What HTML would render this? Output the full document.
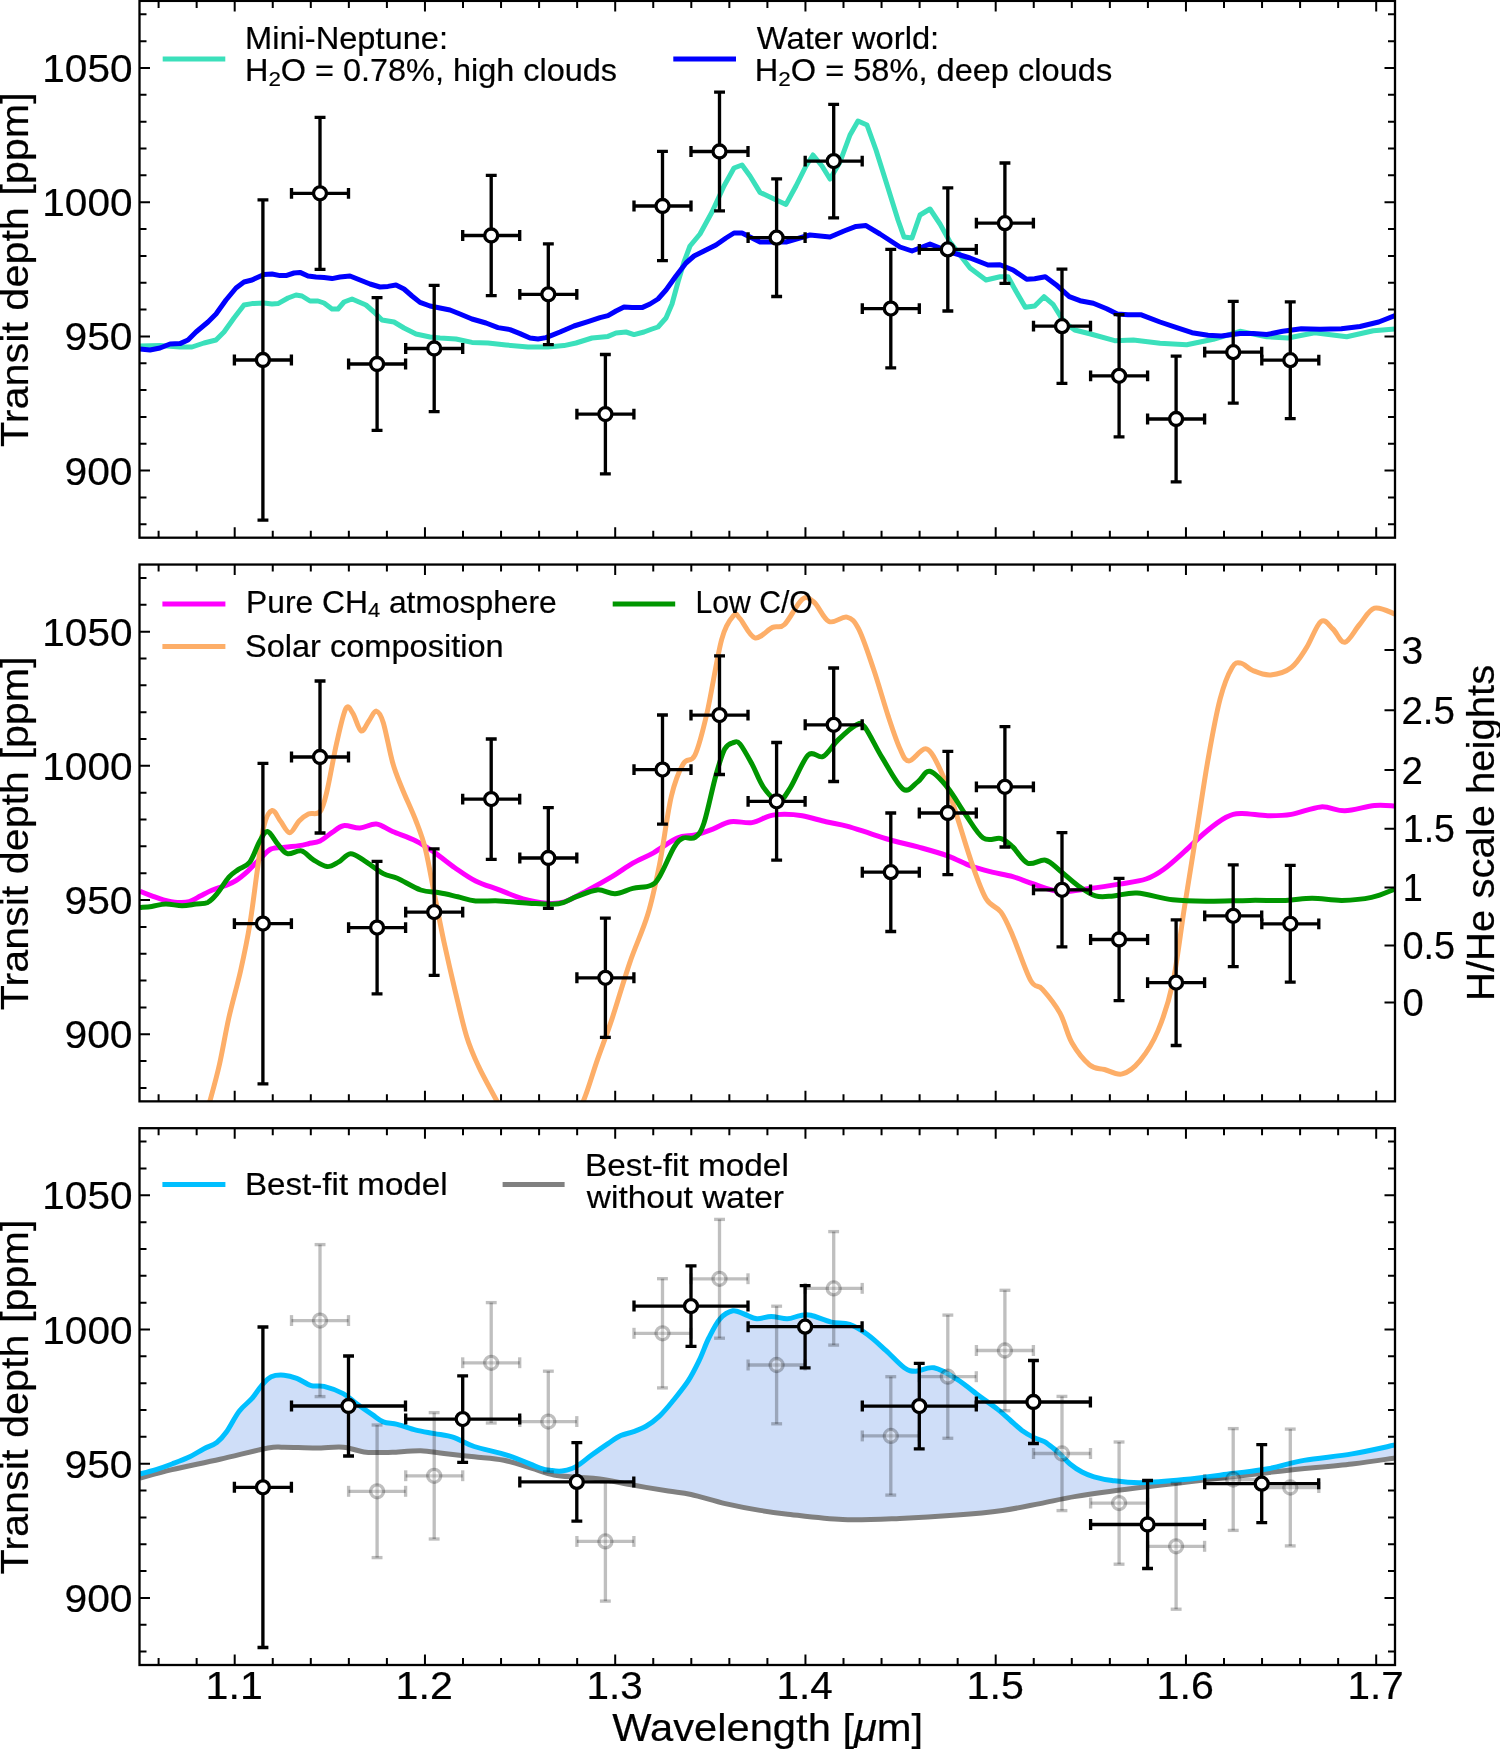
<!DOCTYPE html><html><head><meta charset="utf-8"><style>html,body{margin:0;padding:0;background:#fff;width:1500px;height:1753px;overflow:hidden}svg{display:block;will-change:transform}text{font-family:"Liberation Sans", sans-serif;fill:#000;stroke:#000;stroke-width:0.2px}</style></head><body>
<svg width="1500" height="1753" viewBox="0 0 1500 1753">
<rect width="1500" height="1753" fill="#fff"/>
<defs>
<clipPath id="clip0"><rect x="139.50" y="0.90" width="1255.50" height="536.80"/></clipPath>
<clipPath id="clip1"><rect x="139.50" y="564.55" width="1255.50" height="536.80"/></clipPath>
<clipPath id="clip2"><rect x="139.50" y="1128.20" width="1255.50" height="536.80"/></clipPath>
</defs>
<path d="M140.0,346.0 L160.0,345.6 L180.0,347.0 L192.0,347.0 L204.0,343.0 L216.0,340.0 L224.0,332.0 L234.0,318.0 L244.0,305.0 L252.0,303.6 L264.0,303.0 L272.0,304.0 L278.0,303.6 L288.0,298.0 L296.0,295.0 L302.0,296.0 L310.0,301.0 L318.0,301.0 L324.0,303.0 L332.0,309.0 L338.0,309.0 L344.0,302.0 L352.0,299.0 L366.0,305.0 L374.0,312.0 L382.0,320.0 L394.0,322.0 L404.0,328.0 L416.0,334.0 L430.0,337.0 L440.0,338.0 L456.0,339.0 L472.0,342.4 L488.0,343.0 L506.0,345.0 L528.0,347.0 L548.0,347.0 L564.0,345.6 L576.0,343.0 L592.0,338.0 L608.0,336.4 L616.0,333.0 L626.0,332.0 L634.0,334.6 L644.0,332.0 L652.0,329.0 L658.0,327.0 L666.0,318.0 L672.0,304.0 L678.0,282.0 L684.0,262.0 L690.0,246.0 L700.0,234.0 L712.0,212.0 L724.0,186.0 L734.0,168.0 L742.0,165.0 L750.0,176.0 L760.0,192.4 L772.0,198.0 L786.0,204.4 L796.0,186.0 L806.0,166.0 L813.0,155.0 L822.0,166.0 L830.0,179.0 L840.0,162.0 L850.0,135.0 L858.0,121.0 L867.0,125.0 L876.0,150.0 L888.0,188.0 L898.0,220.0 L904.0,237.0 L912.0,238.0 L920.0,215.0 L930.0,209.0 L940.0,224.0 L950.0,242.0 L960.0,255.0 L970.0,268.0 L986.0,280.0 L1000.0,276.7 L1008.0,276.7 L1016.0,291.3 L1025.3,307.3 L1034.7,306.0 L1044.0,296.7 L1053.3,304.7 L1064.0,322.0 L1074.7,330.0 L1090.7,334.0 L1114.7,340.7 L1133.3,339.9 L1160.0,343.3 L1186.7,344.7 L1213.3,339.3 L1240.0,331.3 L1266.7,336.7 L1288.0,338.0 L1314.7,332.7 L1346.7,336.7 L1373.3,330.8 L1395.0,329.0" fill="none" stroke="#3be0bb" stroke-width="5.00" stroke-linejoin="round" stroke-linecap="butt" clip-path="url(#clip0)" />
<path d="M140.0,349.0 L150.0,350.0 L160.0,348.0 L170.0,344.0 L180.0,343.6 L188.0,340.0 L196.0,332.0 L208.0,322.0 L216.0,314.0 L226.0,300.0 L236.0,288.0 L244.0,282.0 L252.0,280.0 L264.0,274.4 L272.0,274.0 L280.0,275.6 L286.0,275.6 L294.0,273.0 L300.0,272.4 L308.0,276.0 L316.0,277.0 L324.0,277.6 L332.0,278.6 L340.0,277.0 L350.0,276.0 L360.0,280.0 L370.0,284.0 L380.0,287.0 L388.0,286.4 L396.0,285.0 L404.0,289.0 L412.0,296.0 L420.0,302.4 L430.0,306.0 L440.0,308.0 L450.0,310.0 L460.0,314.0 L472.0,319.0 L486.0,323.0 L498.0,327.6 L510.0,329.6 L520.0,333.6 L530.0,338.0 L538.0,339.0 L546.0,337.6 L560.0,332.0 L574.0,326.0 L588.0,321.6 L600.0,317.6 L608.0,315.6 L616.0,311.0 L624.0,307.0 L632.0,307.6 L642.0,307.6 L650.0,304.0 L658.0,299.0 L666.0,290.0 L676.0,276.0 L686.0,263.0 L694.0,256.0 L704.0,251.0 L716.0,245.0 L726.0,238.0 L734.0,233.0 L742.0,233.0 L760.0,242.0 L786.0,242.0 L810.0,235.0 L830.0,237.0 L844.0,231.0 L856.0,226.4 L866.0,225.6 L880.0,234.0 L900.0,247.0 L912.0,251.0 L930.0,244.0 L950.0,252.0 L970.0,258.0 L988.0,265.0 L1000.0,264.7 L1013.0,270.0 L1026.7,279.3 L1034.7,278.8 L1045.3,276.7 L1056.0,284.7 L1069.3,296.7 L1080.0,300.7 L1093.3,303.3 L1106.7,308.7 L1117.3,314.0 L1128.0,314.8 L1141.3,314.8 L1160.0,322.0 L1176.0,327.3 L1192.0,332.7 L1208.0,335.3 L1221.3,336.1 L1240.0,333.5 L1253.3,333.5 L1266.7,334.5 L1282.7,331.3 L1301.3,328.7 L1320.0,329.2 L1341.3,328.7 L1360.0,326.5 L1378.7,322.0 L1395.0,315.5" fill="none" stroke="#0000ff" stroke-width="5.00" stroke-linejoin="round" stroke-linecap="butt" clip-path="url(#clip0)" />
<path d="M262.9,199.8 V520.2 M234.4,360.0 H291.4 M257.5,199.8 H268.4 M257.5,520.2 H268.4 M234.4,354.6 V365.4 M291.4,354.6 V365.4" stroke="#000" stroke-width="3.33" fill="none"/>
<circle cx="262.9" cy="360.0" r="6.5" fill="#fff" stroke="#000" stroke-width="3.33"/>
<path d="M320.0,117.3 V269.3 M291.5,193.3 H348.5 M314.6,117.3 H325.5 M314.6,269.3 H325.5 M291.5,187.9 V198.8 M348.5,187.9 V198.8" stroke="#000" stroke-width="3.33" fill="none"/>
<circle cx="320.0" cy="193.3" r="6.5" fill="#fff" stroke="#000" stroke-width="3.33"/>
<path d="M377.1,297.7 V430.3 M348.6,364.0 H405.6 M371.6,297.7 H382.5 M371.6,430.3 H382.5 M348.6,358.6 V369.4 M405.6,358.6 V369.4" stroke="#000" stroke-width="3.33" fill="none"/>
<circle cx="377.1" cy="364.0" r="6.5" fill="#fff" stroke="#000" stroke-width="3.33"/>
<path d="M434.2,285.3 V411.7 M405.7,348.5 H462.7 M428.7,285.3 H439.6 M428.7,411.7 H439.6 M405.7,343.1 V353.9 M462.7,343.1 V353.9" stroke="#000" stroke-width="3.33" fill="none"/>
<circle cx="434.2" cy="348.5" r="6.5" fill="#fff" stroke="#000" stroke-width="3.33"/>
<path d="M491.2,175.3 V295.6 M462.7,235.5 H519.7 M485.8,175.3 H496.7 M485.8,295.6 H496.7 M462.7,230.1 V240.9 M519.7,230.1 V240.9" stroke="#000" stroke-width="3.33" fill="none"/>
<circle cx="491.2" cy="235.5" r="6.5" fill="#fff" stroke="#000" stroke-width="3.33"/>
<path d="M548.3,243.9 V344.7 M519.8,294.3 H576.8 M542.9,243.9 H553.8 M542.9,344.7 H553.8 M519.8,288.9 V299.8 M576.8,288.9 V299.8" stroke="#000" stroke-width="3.33" fill="none"/>
<circle cx="548.3" cy="294.3" r="6.5" fill="#fff" stroke="#000" stroke-width="3.33"/>
<path d="M605.4,354.5 V473.8 M576.9,414.1 H633.9 M599.9,354.5 H610.8 M599.9,473.8 H610.8 M576.9,408.7 V419.6 M633.9,408.7 V419.6" stroke="#000" stroke-width="3.33" fill="none"/>
<circle cx="605.4" cy="414.1" r="6.5" fill="#fff" stroke="#000" stroke-width="3.33"/>
<path d="M662.5,151.4 V260.6 M634.0,206.0 H691.0 M657.0,151.4 H667.9 M657.0,260.6 H667.9 M634.0,200.6 V211.4 M691.0,200.6 V211.4" stroke="#000" stroke-width="3.33" fill="none"/>
<circle cx="662.5" cy="206.0" r="6.5" fill="#fff" stroke="#000" stroke-width="3.33"/>
<path d="M719.5,92.1 V210.9 M691.0,151.5 H748.0 M714.1,92.1 H725.0 M714.1,210.9 H725.0 M691.0,146.1 V156.9 M748.0,146.1 V156.9" stroke="#000" stroke-width="3.33" fill="none"/>
<circle cx="719.5" cy="151.5" r="6.5" fill="#fff" stroke="#000" stroke-width="3.33"/>
<path d="M776.6,178.9 V296.5 M748.1,237.7 H805.1 M771.2,178.9 H782.1 M771.2,296.5 H782.1 M748.1,232.2 V243.1 M805.1,232.2 V243.1" stroke="#000" stroke-width="3.33" fill="none"/>
<circle cx="776.6" cy="237.7" r="6.5" fill="#fff" stroke="#000" stroke-width="3.33"/>
<path d="M833.7,104.3 V217.8 M805.2,161.1 H862.2 M828.2,104.3 H839.1 M828.2,217.8 H839.1 M805.2,155.7 V166.5 M862.2,155.7 V166.5" stroke="#000" stroke-width="3.33" fill="none"/>
<circle cx="833.7" cy="161.1" r="6.5" fill="#fff" stroke="#000" stroke-width="3.33"/>
<path d="M890.8,249.4 V367.8 M862.3,308.6 H919.3 M885.3,249.4 H896.2 M885.3,367.8 H896.2 M862.3,303.2 V314.1 M919.3,303.2 V314.1" stroke="#000" stroke-width="3.33" fill="none"/>
<circle cx="890.8" cy="308.6" r="6.5" fill="#fff" stroke="#000" stroke-width="3.33"/>
<path d="M947.8,187.8 V311.0 M919.3,249.4 H976.3 M942.4,187.8 H953.3 M942.4,311.0 H953.3 M919.3,244.0 V254.8 M976.3,244.0 V254.8" stroke="#000" stroke-width="3.33" fill="none"/>
<circle cx="947.8" cy="249.4" r="6.5" fill="#fff" stroke="#000" stroke-width="3.33"/>
<path d="M1004.9,163.0 V283.4 M976.4,223.2 H1033.4 M999.5,163.0 H1010.4 M999.5,283.4 H1010.4 M976.4,217.8 V228.6 M1033.4,217.8 V228.6" stroke="#000" stroke-width="3.33" fill="none"/>
<circle cx="1004.9" cy="223.2" r="6.5" fill="#fff" stroke="#000" stroke-width="3.33"/>
<path d="M1062.0,269.1 V383.3 M1033.5,326.2 H1090.5 M1056.5,269.1 H1067.4 M1056.5,383.3 H1067.4 M1033.5,320.8 V331.6 M1090.5,320.8 V331.6" stroke="#000" stroke-width="3.33" fill="none"/>
<circle cx="1062.0" cy="326.2" r="6.5" fill="#fff" stroke="#000" stroke-width="3.33"/>
<path d="M1119.1,314.7 V436.9 M1090.6,375.8 H1147.6 M1113.6,314.7 H1124.5 M1113.6,436.9 H1124.5 M1090.6,370.4 V381.2 M1147.6,370.4 V381.2" stroke="#000" stroke-width="3.33" fill="none"/>
<circle cx="1119.1" cy="375.8" r="6.5" fill="#fff" stroke="#000" stroke-width="3.33"/>
<path d="M1176.1,356.1 V481.9 M1147.6,419.0 H1204.6 M1170.7,356.1 H1181.6 M1170.7,481.9 H1181.6 M1147.6,413.6 V424.4 M1204.6,413.6 V424.4" stroke="#000" stroke-width="3.33" fill="none"/>
<circle cx="1176.1" cy="419.0" r="6.5" fill="#fff" stroke="#000" stroke-width="3.33"/>
<path d="M1233.2,301.3 V403.1 M1204.7,352.2 H1261.7 M1227.8,301.3 H1238.7 M1227.8,403.1 H1238.7 M1204.7,346.8 V357.6 M1261.7,346.8 V357.6" stroke="#000" stroke-width="3.33" fill="none"/>
<circle cx="1233.2" cy="352.2" r="6.5" fill="#fff" stroke="#000" stroke-width="3.33"/>
<path d="M1290.3,301.8 V418.6 M1261.8,360.2 H1318.8 M1284.8,301.8 H1295.7 M1284.8,418.6 H1295.7 M1261.8,354.8 V365.6 M1318.8,354.8 V365.6" stroke="#000" stroke-width="3.33" fill="none"/>
<circle cx="1290.3" cy="360.2" r="6.5" fill="#fff" stroke="#000" stroke-width="3.33"/>
<path d="M140.0,891.2 C141.9,892.0 147.8,894.4 151.7,895.8 C155.6,897.2 159.1,898.7 163.4,899.8 C167.7,900.9 173.1,902.1 177.4,902.4 C181.7,902.7 185.2,902.8 189.1,901.7 C193.0,900.6 196.9,897.8 200.8,895.8 C204.7,893.8 208.6,891.6 212.5,890.0 C216.4,888.4 220.3,887.6 224.2,886.0 C228.1,884.4 232.0,883.1 235.9,880.6 C239.8,878.1 243.7,874.8 247.6,871.3 C251.5,867.8 255.4,863.3 259.3,859.6 C263.2,855.9 266.7,851.2 271.0,849.1 C275.3,847.0 280.3,847.8 285.0,847.2 C289.7,846.6 295.2,846.2 299.1,845.6 C303.0,845.0 304.9,844.5 308.4,843.7 C311.9,842.9 316.2,842.7 320.1,840.9 C324.0,839.1 327.9,835.2 331.8,832.7 C335.7,830.2 338.8,826.5 343.5,825.7 C348.2,824.9 354.4,828.3 359.9,828.0 C365.4,827.7 370.9,823.4 376.3,824.0 C381.8,824.6 386.0,828.7 392.6,831.5 C399.2,834.3 409.0,837.4 416.0,840.9 C423.0,844.4 428.2,848.1 434.7,852.6 C441.2,857.1 448.0,863.0 454.8,867.7 C461.6,872.4 468.2,877.3 475.6,881.0 C483.0,884.7 491.4,886.9 499.3,889.9 C507.2,892.9 515.1,896.6 523.0,898.8 C530.9,901.0 539.9,902.7 546.8,903.2 C553.7,903.7 557.7,904.0 564.6,901.8 C571.5,899.6 580.4,894.1 588.3,889.9 C596.2,885.7 604.6,881.0 612.0,876.6 C619.4,872.2 625.9,867.2 632.8,863.2 C639.7,859.2 646.1,857.0 653.5,852.8 C660.9,848.6 670.3,841.0 677.2,838.0 C684.1,835.0 689.1,836.5 695.0,835.0 C700.9,833.5 706.9,831.3 712.8,829.1 C718.7,826.9 724.1,822.8 730.6,821.7 C737.1,820.6 745.4,823.6 751.9,822.6 C758.4,821.6 764.3,817.2 769.7,815.8 C775.1,814.4 779.1,814.3 784.5,814.3 C789.9,814.3 795.4,814.6 802.3,815.8 C809.2,817.0 818.6,820.0 826.0,821.7 C833.4,823.4 839.4,824.1 846.8,826.1 C854.2,828.1 862.6,831.1 870.5,833.6 C878.4,836.1 886.3,838.8 894.2,841.0 C902.1,843.2 909.0,844.4 917.9,846.9 C926.8,849.4 938.7,852.6 947.6,855.8 C956.5,859.0 963.9,863.5 971.3,866.2 C978.7,868.9 985.2,870.4 992.1,872.1 C999.0,873.8 1005.9,874.6 1012.8,876.6 C1019.7,878.6 1025.7,881.5 1033.6,884.0 C1041.5,886.5 1050.7,890.8 1060.0,891.5 C1069.3,892.2 1079.8,889.7 1089.7,888.5 C1099.6,887.3 1109.9,885.7 1119.3,884.1 C1128.7,882.5 1138.6,881.5 1146.0,879.0 C1153.4,876.5 1157.4,873.8 1163.8,869.2 C1170.2,864.6 1177.7,857.6 1184.6,851.4 C1191.5,845.2 1198.5,837.9 1205.4,832.2 C1212.3,826.5 1220.2,820.4 1226.1,817.3 C1232.0,814.2 1234.1,813.8 1241.0,813.5 C1247.9,813.2 1259.3,815.6 1267.7,815.8 C1276.1,815.9 1282.5,815.9 1291.4,814.4 C1300.3,812.9 1312.1,807.5 1321.0,806.9 C1329.9,806.3 1335.9,811.0 1344.8,810.8 C1353.7,810.6 1366.1,806.3 1374.5,805.5 C1382.9,804.7 1391.6,805.9 1395.0,806.0" fill="none" stroke="#ff00ff" stroke-width="5.00" stroke-linejoin="round" stroke-linecap="butt" clip-path="url(#clip1)" />
<path d="M204.0,1120.0 C205.0,1116.7 207.6,1109.3 210.2,1100.0 C212.8,1090.7 216.4,1078.0 219.5,1064.3 C222.6,1050.5 225.4,1033.1 228.9,1017.5 C232.4,1001.9 237.1,986.3 240.6,970.7 C244.1,955.1 247.2,940.3 249.9,923.9 C252.6,907.5 254.7,888.9 257.0,872.5 C259.4,856.1 261.5,836.0 264.0,825.7 C266.5,815.4 269.5,811.3 272.2,810.5 C274.9,809.7 277.5,817.3 280.4,821.0 C283.3,824.7 286.6,832.7 289.7,832.7 C292.8,832.7 296.0,824.1 299.1,821.0 C302.2,817.9 304.9,815.6 308.4,814.0 C311.9,812.4 317.0,815.5 320.1,811.6 C323.2,807.7 324.4,801.9 327.1,790.6 C329.8,779.3 333.4,757.4 336.5,743.8 C339.6,730.1 343.1,713.8 345.8,708.7 C348.5,703.6 350.3,709.7 352.9,713.4 C355.4,717.1 358.4,729.7 361.1,730.9 C363.8,732.1 366.7,723.7 369.2,720.4 C371.7,717.1 373.9,710.7 376.3,711.1 C378.7,711.5 380.6,714.1 383.3,722.7 C386.0,731.3 389.5,751.6 392.6,762.5 C395.7,773.4 398.1,778.5 402.0,788.2 C405.9,798.0 412.1,810.9 416.0,821.0 C419.9,831.1 422.3,836.6 425.4,849.1 C428.5,861.6 431.6,880.2 434.7,895.8 C437.8,911.4 440.8,927.0 444.1,942.6 C447.5,958.2 451.0,973.6 454.8,989.3 C458.6,1005.0 462.7,1023.9 466.7,1036.7 C470.7,1049.6 473.7,1055.9 478.6,1066.4 C483.5,1077.0 491.1,1090.2 496.3,1100.0 C501.5,1109.8 502.7,1115.0 510.0,1125.0 C517.3,1135.0 530.0,1160.0 540.0,1160.0 C550.0,1160.0 562.7,1135.0 570.0,1125.0 C577.3,1115.0 579.3,1110.8 583.8,1100.0 C588.3,1089.2 592.5,1073.9 597.2,1060.4 C601.9,1046.9 606.6,1035.2 612.0,1018.9 C617.4,1002.6 623.9,979.9 629.8,962.6 C635.7,945.3 642.6,931.4 647.6,915.1 C652.6,898.8 655.5,884.5 659.5,864.7 C663.5,844.9 667.3,813.3 671.3,796.5 C675.2,779.7 679.2,770.8 683.2,763.9 C687.2,757.0 691.0,763.4 695.0,755.0 C699.0,746.6 702.4,732.8 706.9,713.5 C711.4,694.2 717.2,655.6 721.7,639.3 C726.2,623.0 730.6,619.0 733.6,615.6 C736.6,612.2 736.5,614.9 740.0,618.6 C743.5,622.3 749.4,636.3 754.8,637.8 C760.2,639.3 767.6,629.6 772.6,627.4 C777.6,625.2 779.5,629.2 784.5,624.5 C789.5,619.8 797.4,603.0 802.3,599.3 C807.2,595.6 809.6,598.5 814.1,602.2 C818.6,605.9 823.5,619.0 829.0,621.5 C834.5,624.0 841.9,615.9 846.8,617.1 C851.7,618.3 854.1,620.2 858.6,628.9 C863.1,637.5 868.5,654.4 873.5,669.0 C878.5,683.6 883.9,703.1 888.3,716.4 C892.7,729.7 896.6,741.6 900.1,749.0 C903.6,756.4 904.5,760.9 909.0,760.9 C913.5,760.9 921.3,747.0 926.8,749.0 C932.2,751.0 937.2,763.4 941.7,772.8 C946.2,782.2 948.6,790.6 953.5,805.4 C958.4,820.2 965.9,846.1 971.3,861.7 C976.7,877.3 981.1,890.4 986.1,898.8 C991.1,907.2 996.5,905.9 1001.0,912.1 C1005.5,918.3 1007.9,924.5 1012.8,935.9 C1017.7,947.3 1025.6,971.5 1030.6,980.4 C1035.5,989.3 1037.6,983.8 1042.5,989.3 C1047.4,994.8 1055.1,1004.2 1060.0,1013.1 C1064.9,1022.0 1067.0,1034.1 1071.9,1042.8 C1076.9,1051.5 1084.3,1060.5 1089.7,1065.0 C1095.1,1069.5 1099.1,1068.0 1104.5,1069.5 C1109.9,1071.0 1116.4,1075.4 1122.3,1073.9 C1128.2,1072.4 1134.2,1067.8 1140.1,1060.6 C1146.0,1053.4 1152.5,1043.8 1157.9,1030.9 C1163.3,1018.0 1168.2,1004.2 1172.7,983.4 C1177.2,962.6 1180.6,931.5 1184.6,906.3 C1188.6,881.1 1192.5,856.9 1196.5,832.2 C1200.5,807.5 1204.3,780.2 1208.3,758.0 C1212.2,735.8 1216.2,713.8 1220.2,698.7 C1224.2,683.6 1228.6,673.4 1232.1,667.5 C1235.6,661.6 1237.5,662.6 1241.0,663.1 C1244.5,663.6 1247.9,668.5 1252.8,670.5 C1257.7,672.5 1264.2,675.4 1270.6,674.9 C1277.0,674.4 1285.5,672.0 1291.4,667.5 C1297.3,663.0 1301.3,655.9 1306.2,648.2 C1311.1,640.5 1316.5,624.7 1321.0,621.5 C1325.5,618.3 1328.9,625.5 1332.9,629.0 C1336.9,632.5 1340.3,643.0 1344.8,642.3 C1349.2,641.5 1354.6,630.2 1359.6,624.5 C1364.5,618.8 1368.6,610.0 1374.5,608.2 C1380.4,606.5 1391.6,613.0 1395.0,614.0" fill="none" stroke="#fdae68" stroke-width="5.00" stroke-linejoin="round" stroke-linecap="butt" clip-path="url(#clip1)" />
<path d="M140.0,907.5 C141.9,907.3 147.4,907.0 151.7,906.4 C156.0,905.8 160.6,904.1 165.7,904.0 C170.8,903.9 177.0,905.7 182.1,905.7 C187.2,905.7 191.8,904.5 196.1,904.0 C200.4,903.5 204.3,904.1 207.8,902.4 C211.3,900.6 213.7,897.7 217.2,893.5 C220.7,889.3 225.4,881.1 228.9,877.1 C232.4,873.1 234.7,872.1 238.2,869.6 C241.7,867.1 246.4,866.5 249.9,861.9 C253.4,857.3 256.4,847.1 259.3,842.0 C262.2,836.9 264.4,831.1 267.5,831.5 C270.6,831.9 274.7,840.7 278.0,844.4 C281.3,848.1 283.5,852.6 287.4,853.7 C291.3,854.8 297.1,849.9 301.4,850.9 C305.7,851.9 308.8,857.0 313.1,859.6 C317.4,862.2 322.8,866.2 327.1,866.6 C331.4,867.0 334.9,864.0 338.8,861.9 C342.7,859.8 346.2,853.9 350.5,853.7 C354.8,853.5 359.1,857.5 364.6,860.8 C370.1,864.1 377.9,870.7 383.3,873.6 C388.8,876.5 391.1,875.6 397.3,878.3 C403.5,881.0 413.7,887.6 420.7,890.0 C427.7,892.4 433.2,891.7 439.4,892.8 C445.6,893.9 451.8,895.4 457.8,896.7 C463.8,898.1 468.7,900.2 475.6,900.9 C482.5,901.6 490.4,900.5 499.3,900.9 C508.2,901.3 519.1,902.7 529.0,903.2 C538.9,903.7 550.7,904.9 558.6,903.8 C566.5,902.7 570.0,899.0 576.4,896.7 C582.8,894.4 590.8,890.4 597.2,889.9 C603.6,889.4 609.1,894.0 615.0,893.8 C620.9,893.5 626.9,889.8 632.8,888.4 C638.7,887.0 646.1,887.5 650.6,885.5 C655.1,883.5 655.5,883.0 659.5,876.6 C663.5,870.2 670.3,853.3 674.3,846.9 C678.2,840.5 679.8,839.6 683.2,838.0 C686.7,836.4 691.5,839.9 695.0,837.4 C698.5,834.9 700.4,833.5 703.9,823.2 C707.4,812.9 712.3,788.1 715.8,775.7 C719.3,763.3 721.7,754.5 724.7,749.0 C727.7,743.5 731.1,743.3 733.6,742.5 C736.1,741.7 737.0,740.4 740.0,744.0 C743.0,747.6 747.9,756.6 751.9,763.9 C755.9,771.2 759.2,781.4 763.7,787.6 C768.2,793.8 774.2,800.9 778.6,800.9 C783.0,800.9 785.5,795.2 790.4,787.6 C795.3,780.0 802.8,760.2 808.2,755.0 C813.6,749.8 818.0,759.0 823.0,756.5 C828.0,754.0 832.4,745.3 837.9,740.1 C843.4,734.9 851.2,727.5 855.7,725.3 C860.2,723.1 860.2,721.4 864.6,726.8 C869.0,732.2 875.9,747.5 882.3,757.9 C888.7,768.3 897.2,785.1 903.1,789.1 C909.0,793.1 913.5,784.7 917.9,781.7 C922.3,778.7 924.8,770.3 929.8,771.3 C934.8,772.3 941.7,780.4 947.6,787.6 C953.5,794.8 959.5,805.9 965.4,814.3 C971.3,822.7 977.3,834.0 983.2,838.0 C989.1,842.0 996.1,837.1 1001.0,838.6 C1005.9,840.1 1008.3,842.8 1012.8,846.9 C1017.2,851.0 1022.2,861.0 1027.7,863.2 C1033.2,865.4 1040.1,859.0 1045.5,860.2 C1050.9,861.5 1054.6,866.5 1060.0,870.7 C1065.4,874.9 1071.9,881.3 1077.8,885.5 C1083.7,889.7 1089.7,894.2 1095.6,895.9 C1101.5,897.6 1106.5,896.4 1113.4,895.9 C1120.3,895.4 1127.2,892.4 1137.1,893.0 C1147.0,893.6 1160.8,898.4 1172.7,899.8 C1184.6,901.2 1195.4,901.2 1208.3,901.3 C1221.2,901.4 1237.0,900.5 1249.9,900.4 C1262.8,900.2 1275.1,900.8 1285.5,900.4 C1295.9,900.0 1302.7,898.3 1312.1,898.3 C1321.5,898.3 1331.9,900.5 1341.8,900.4 C1351.7,900.2 1362.6,899.3 1371.5,897.4 C1380.4,895.5 1391.1,890.4 1395.0,889.0" fill="none" stroke="#009600" stroke-width="5.00" stroke-linejoin="round" stroke-linecap="butt" clip-path="url(#clip1)" />
<path d="M262.9,763.4 V1083.9 M234.4,923.6 H291.4 M257.5,763.4 H268.4 M257.5,1083.9 H268.4 M234.4,918.2 V929.1 M291.4,918.2 V929.1" stroke="#000" stroke-width="3.33" fill="none"/>
<circle cx="262.9" cy="923.6" r="6.5" fill="#fff" stroke="#000" stroke-width="3.33"/>
<path d="M320.0,681.0 V833.0 M291.5,757.0 H348.5 M314.6,681.0 H325.5 M314.6,833.0 H325.5 M291.5,751.5 V762.4 M348.5,751.5 V762.4" stroke="#000" stroke-width="3.33" fill="none"/>
<circle cx="320.0" cy="757.0" r="6.5" fill="#fff" stroke="#000" stroke-width="3.33"/>
<path d="M377.1,861.4 V993.9 M348.6,927.6 H405.6 M371.6,861.4 H382.5 M371.6,993.9 H382.5 M348.6,922.2 V933.1 M405.6,922.2 V933.1" stroke="#000" stroke-width="3.33" fill="none"/>
<circle cx="377.1" cy="927.6" r="6.5" fill="#fff" stroke="#000" stroke-width="3.33"/>
<path d="M434.2,848.9 V975.4 M405.7,912.1 H462.7 M428.7,848.9 H439.6 M428.7,975.4 H439.6 M405.7,906.7 V917.6 M462.7,906.7 V917.6" stroke="#000" stroke-width="3.33" fill="none"/>
<circle cx="434.2" cy="912.1" r="6.5" fill="#fff" stroke="#000" stroke-width="3.33"/>
<path d="M491.2,739.0 V859.3 M462.7,799.1 H519.7 M485.8,739.0 H496.7 M485.8,859.3 H496.7 M462.7,793.7 V804.6 M519.7,793.7 V804.6" stroke="#000" stroke-width="3.33" fill="none"/>
<circle cx="491.2" cy="799.1" r="6.5" fill="#fff" stroke="#000" stroke-width="3.33"/>
<path d="M548.3,807.6 V908.4 M519.8,858.0 H576.8 M542.9,807.6 H553.8 M542.9,908.4 H553.8 M519.8,852.5 V863.4 M576.8,852.5 V863.4" stroke="#000" stroke-width="3.33" fill="none"/>
<circle cx="548.3" cy="858.0" r="6.5" fill="#fff" stroke="#000" stroke-width="3.33"/>
<path d="M605.4,918.1 V1037.4 M576.9,977.8 H633.9 M599.9,918.1 H610.8 M599.9,1037.4 H610.8 M576.9,972.3 V983.2 M633.9,972.3 V983.2" stroke="#000" stroke-width="3.33" fill="none"/>
<circle cx="605.4" cy="977.8" r="6.5" fill="#fff" stroke="#000" stroke-width="3.33"/>
<path d="M662.5,715.0 V824.2 M634.0,769.6 H691.0 M657.0,715.0 H667.9 M657.0,824.2 H667.9 M634.0,764.2 V775.1 M691.0,764.2 V775.1" stroke="#000" stroke-width="3.33" fill="none"/>
<circle cx="662.5" cy="769.6" r="6.5" fill="#fff" stroke="#000" stroke-width="3.33"/>
<path d="M719.5,655.8 V774.5 M691.0,715.1 H748.0 M714.1,655.8 H725.0 M714.1,774.5 H725.0 M691.0,709.7 V720.6 M748.0,709.7 V720.6" stroke="#000" stroke-width="3.33" fill="none"/>
<circle cx="719.5" cy="715.1" r="6.5" fill="#fff" stroke="#000" stroke-width="3.33"/>
<path d="M776.6,742.5 V860.1 M748.1,801.3 H805.1 M771.2,742.5 H782.1 M771.2,860.1 H782.1 M748.1,795.9 V806.8 M805.1,795.9 V806.8" stroke="#000" stroke-width="3.33" fill="none"/>
<circle cx="776.6" cy="801.3" r="6.5" fill="#fff" stroke="#000" stroke-width="3.33"/>
<path d="M833.7,668.0 V781.5 M805.2,724.8 H862.2 M828.2,668.0 H839.1 M828.2,781.5 H839.1 M805.2,719.3 V730.2 M862.2,719.3 V730.2" stroke="#000" stroke-width="3.33" fill="none"/>
<circle cx="833.7" cy="724.8" r="6.5" fill="#fff" stroke="#000" stroke-width="3.33"/>
<path d="M890.8,813.0 V931.5 M862.3,872.2 H919.3 M885.3,813.0 H896.2 M885.3,931.5 H896.2 M862.3,866.8 V877.7 M919.3,866.8 V877.7" stroke="#000" stroke-width="3.33" fill="none"/>
<circle cx="890.8" cy="872.2" r="6.5" fill="#fff" stroke="#000" stroke-width="3.33"/>
<path d="M947.8,751.4 V874.6 M919.3,813.0 H976.3 M942.4,751.4 H953.3 M942.4,874.6 H953.3 M919.3,807.6 V818.5 M976.3,807.6 V818.5" stroke="#000" stroke-width="3.33" fill="none"/>
<circle cx="947.8" cy="813.0" r="6.5" fill="#fff" stroke="#000" stroke-width="3.33"/>
<path d="M1004.9,726.6 V847.0 M976.4,786.8 H1033.4 M999.5,726.6 H1010.4 M999.5,847.0 H1010.4 M976.4,781.4 V792.3 M1033.4,781.4 V792.3" stroke="#000" stroke-width="3.33" fill="none"/>
<circle cx="1004.9" cy="786.8" r="6.5" fill="#fff" stroke="#000" stroke-width="3.33"/>
<path d="M1062.0,832.7 V946.9 M1033.5,889.8 H1090.5 M1056.5,832.7 H1067.4 M1056.5,946.9 H1067.4 M1033.5,884.4 V895.3 M1090.5,884.4 V895.3" stroke="#000" stroke-width="3.33" fill="none"/>
<circle cx="1062.0" cy="889.8" r="6.5" fill="#fff" stroke="#000" stroke-width="3.33"/>
<path d="M1119.1,878.4 V1000.6 M1090.6,939.5 H1147.6 M1113.6,878.4 H1124.5 M1113.6,1000.6 H1124.5 M1090.6,934.0 V944.9 M1147.6,934.0 V944.9" stroke="#000" stroke-width="3.33" fill="none"/>
<circle cx="1119.1" cy="939.5" r="6.5" fill="#fff" stroke="#000" stroke-width="3.33"/>
<path d="M1176.1,919.8 V1045.5 M1147.6,982.6 H1204.6 M1170.7,919.8 H1181.6 M1170.7,1045.5 H1181.6 M1147.6,977.2 V988.1 M1204.6,977.2 V988.1" stroke="#000" stroke-width="3.33" fill="none"/>
<circle cx="1176.1" cy="982.6" r="6.5" fill="#fff" stroke="#000" stroke-width="3.33"/>
<path d="M1233.2,864.9 V966.7 M1204.7,915.8 H1261.7 M1227.8,864.9 H1238.7 M1227.8,966.7 H1238.7 M1204.7,910.4 V921.3 M1261.7,910.4 V921.3" stroke="#000" stroke-width="3.33" fill="none"/>
<circle cx="1233.2" cy="915.8" r="6.5" fill="#fff" stroke="#000" stroke-width="3.33"/>
<path d="M1290.3,865.4 V982.2 M1261.8,923.8 H1318.8 M1284.8,865.4 H1295.7 M1284.8,982.2 H1295.7 M1261.8,918.4 V929.3 M1318.8,918.4 V929.3" stroke="#000" stroke-width="3.33" fill="none"/>
<circle cx="1290.3" cy="923.8" r="6.5" fill="#fff" stroke="#000" stroke-width="3.33"/>
<path d="M140.0,1473.9 L156.0,1469.6 L172.0,1464.0 L188.0,1457.6 L204.0,1448.8 L216.8,1442.4 L226.4,1432.0 L239.2,1411.2 L252.0,1398.4 L261.6,1385.6 L271.2,1376.8 L284.0,1375.2 L296.8,1378.4 L311.2,1385.6 L324.0,1386.4 L343.2,1393.6 L356.0,1403.2 L372.0,1414.4 L383.3,1421.9 L397.3,1424.3 L416.0,1430.1 L434.7,1433.6 L453.7,1437.4 L474.2,1446.5 L508.5,1455.6 L540.0,1468.0 L552.0,1470.6 L562.0,1471.0 L572.0,1468.5 L580.0,1464.0 L592.0,1454.8 L608.0,1443.6 L620.8,1435.6 L633.6,1431.6 L646.4,1426.0 L659.2,1416.4 L672.0,1402.0 L688.0,1381.2 L699.2,1360.4 L708.8,1338.0 L720.0,1318.8 L732.8,1310.8 L744.0,1314.0 L756.8,1318.8 L771.2,1316.4 L787.2,1318.8 L800.0,1315.6 L810.8,1315.3 L831.3,1322.1 L849.6,1324.4 L867.8,1334.7 L886.1,1350.7 L904.3,1367.8 L915.8,1371.2 L934.0,1367.8 L956.8,1379.2 L979.7,1396.3 L998.0,1409.6 L1010.0,1420.0 L1022.0,1430.4 L1034.0,1437.6 L1044.4,1441.6 L1054.0,1448.8 L1062.0,1456.0 L1070.0,1464.0 L1082.0,1472.0 L1094.0,1476.8 L1112.0,1480.5 L1140.8,1482.7 L1184.0,1479.6 L1232.0,1473.6 L1268.0,1468.8 L1304.0,1460.4 L1352.0,1453.9 L1395.0,1445.0 L1395.0,1458.0 L1352.0,1464.0 L1280.0,1471.2 L1208.0,1479.6 L1136.0,1488.0 L1076.0,1496.4 L1040.0,1503.6 L1002.5,1510.4 L956.8,1515.0 L899.8,1518.4 L842.7,1519.6 L785.7,1513.9 L760.0,1510.4 L725.3,1503.6 L691.1,1494.5 L668.3,1491.0 L634.0,1485.3 L599.8,1478.9 L577.0,1477.3 L554.1,1475.0 L531.3,1468.2 L503.9,1460.2 L474.2,1456.8 L444.1,1453.5 L420.7,1450.7 L392.6,1452.3 L380.0,1452.5 L364.0,1452.0 L343.2,1447.2 L316.0,1448.0 L284.0,1447.2 L268.0,1448.0 L220.0,1459.2 L172.0,1469.6 L140.0,1478.0 Z" fill="#cfdef8" stroke="none" clip-path="url(#clip2)"/>
<path d="M140.0,1478.0 C145.3,1476.6 158.7,1472.7 172.0,1469.6 C185.3,1466.5 204.0,1462.8 220.0,1459.2 C236.0,1455.6 257.3,1450.0 268.0,1448.0 C278.7,1446.0 276.0,1447.2 284.0,1447.2 C292.0,1447.2 306.1,1448.0 316.0,1448.0 C325.9,1448.0 335.2,1446.5 343.2,1447.2 C351.2,1447.9 357.9,1451.1 364.0,1452.0 C370.1,1452.9 375.2,1452.5 380.0,1452.5 C384.8,1452.5 385.8,1452.6 392.6,1452.3 C399.4,1452.0 412.1,1450.5 420.7,1450.7 C429.3,1450.9 435.2,1452.5 444.1,1453.5 C453.0,1454.5 464.2,1455.7 474.2,1456.8 C484.2,1457.9 494.4,1458.3 503.9,1460.2 C513.4,1462.1 522.9,1465.7 531.3,1468.2 C539.7,1470.7 546.5,1473.5 554.1,1475.0 C561.7,1476.5 569.4,1476.6 577.0,1477.3 C584.6,1478.0 590.3,1477.6 599.8,1478.9 C609.3,1480.2 622.6,1483.3 634.0,1485.3 C645.4,1487.3 658.8,1489.5 668.3,1491.0 C677.8,1492.5 681.6,1492.4 691.1,1494.5 C700.6,1496.6 713.8,1500.9 725.3,1503.6 C736.8,1506.2 749.9,1508.7 760.0,1510.4 C770.1,1512.1 771.9,1512.4 785.7,1513.9 C799.5,1515.4 823.7,1518.8 842.7,1519.6 C861.7,1520.3 880.8,1519.2 899.8,1518.4 C918.8,1517.6 939.7,1516.3 956.8,1515.0 C973.9,1513.7 988.6,1512.3 1002.5,1510.4 C1016.4,1508.5 1027.8,1505.9 1040.0,1503.6 C1052.2,1501.3 1060.0,1499.0 1076.0,1496.4 C1092.0,1493.8 1114.0,1490.8 1136.0,1488.0 C1158.0,1485.2 1184.0,1482.4 1208.0,1479.6 C1232.0,1476.8 1256.0,1473.8 1280.0,1471.2 C1304.0,1468.6 1332.8,1466.2 1352.0,1464.0 C1371.2,1461.8 1387.8,1459.0 1395.0,1458.0" fill="none" stroke="#808080" stroke-width="5.00" stroke-linejoin="round" stroke-linecap="butt" clip-path="url(#clip2)" />
<path d="M140.0,1473.9 C142.7,1473.2 150.7,1471.2 156.0,1469.6 C161.3,1467.9 166.7,1466.0 172.0,1464.0 C177.3,1462.0 182.7,1460.1 188.0,1457.6 C193.3,1455.1 199.2,1451.3 204.0,1448.8 C208.8,1446.3 213.1,1445.2 216.8,1442.4 C220.5,1439.6 222.7,1437.2 226.4,1432.0 C230.1,1426.8 234.9,1416.8 239.2,1411.2 C243.5,1405.6 248.3,1402.7 252.0,1398.4 C255.7,1394.1 258.4,1389.2 261.6,1385.6 C264.8,1382.0 267.5,1378.5 271.2,1376.8 C274.9,1375.1 279.7,1374.9 284.0,1375.2 C288.3,1375.5 292.3,1376.7 296.8,1378.4 C301.3,1380.1 306.7,1384.3 311.2,1385.6 C315.7,1386.9 318.7,1385.1 324.0,1386.4 C329.3,1387.7 337.9,1390.8 343.2,1393.6 C348.5,1396.4 351.2,1399.7 356.0,1403.2 C360.8,1406.7 367.4,1411.3 372.0,1414.4 C376.6,1417.5 379.1,1420.2 383.3,1421.9 C387.5,1423.6 391.9,1422.9 397.3,1424.3 C402.8,1425.7 409.8,1428.5 416.0,1430.1 C422.2,1431.6 428.4,1432.4 434.7,1433.6 C441.0,1434.8 447.1,1435.2 453.7,1437.4 C460.3,1439.6 465.1,1443.5 474.2,1446.5 C483.3,1449.5 497.5,1452.0 508.5,1455.6 C519.5,1459.2 532.8,1465.5 540.0,1468.0 C547.2,1470.5 548.3,1470.1 552.0,1470.6 C555.7,1471.1 558.7,1471.3 562.0,1471.0 C565.3,1470.7 569.0,1469.7 572.0,1468.5 C575.0,1467.3 576.7,1466.3 580.0,1464.0 C583.3,1461.7 587.3,1458.2 592.0,1454.8 C596.7,1451.4 603.2,1446.8 608.0,1443.6 C612.8,1440.4 616.5,1437.6 620.8,1435.6 C625.1,1433.6 629.3,1433.2 633.6,1431.6 C637.9,1430.0 642.1,1428.5 646.4,1426.0 C650.7,1423.5 654.9,1420.4 659.2,1416.4 C663.5,1412.4 667.2,1407.9 672.0,1402.0 C676.8,1396.1 683.5,1388.1 688.0,1381.2 C692.5,1374.3 695.7,1367.6 699.2,1360.4 C702.7,1353.2 705.3,1344.9 708.8,1338.0 C712.3,1331.1 716.0,1323.3 720.0,1318.8 C724.0,1314.3 728.8,1311.6 732.8,1310.8 C736.8,1310.0 740.0,1312.7 744.0,1314.0 C748.0,1315.3 752.3,1318.4 756.8,1318.8 C761.3,1319.2 766.1,1316.4 771.2,1316.4 C776.3,1316.4 782.4,1318.9 787.2,1318.8 C792.0,1318.7 796.1,1316.2 800.0,1315.6 C803.9,1315.0 805.6,1314.2 810.8,1315.3 C816.0,1316.4 824.8,1320.6 831.3,1322.1 C837.8,1323.6 843.5,1322.3 849.6,1324.4 C855.7,1326.5 861.7,1330.3 867.8,1334.7 C873.9,1339.1 880.0,1345.2 886.1,1350.7 C892.2,1356.2 899.3,1364.4 904.3,1367.8 C909.2,1371.2 910.8,1371.2 915.8,1371.2 C920.8,1371.2 927.2,1366.5 934.0,1367.8 C940.8,1369.1 949.2,1374.5 956.8,1379.2 C964.4,1384.0 972.8,1391.2 979.7,1396.3 C986.6,1401.4 993.0,1405.6 998.0,1409.6 C1003.0,1413.5 1006.0,1416.5 1010.0,1420.0 C1014.0,1423.5 1018.0,1427.5 1022.0,1430.4 C1026.0,1433.3 1030.3,1435.7 1034.0,1437.6 C1037.7,1439.5 1041.1,1439.7 1044.4,1441.6 C1047.7,1443.5 1051.1,1446.4 1054.0,1448.8 C1056.9,1451.2 1059.3,1453.5 1062.0,1456.0 C1064.7,1458.5 1066.7,1461.3 1070.0,1464.0 C1073.3,1466.7 1078.0,1469.9 1082.0,1472.0 C1086.0,1474.1 1089.0,1475.4 1094.0,1476.8 C1099.0,1478.2 1104.2,1479.5 1112.0,1480.5 C1119.8,1481.5 1128.8,1482.9 1140.8,1482.7 C1152.8,1482.5 1168.8,1481.1 1184.0,1479.6 C1199.2,1478.1 1218.0,1475.4 1232.0,1473.6 C1246.0,1471.8 1256.0,1471.0 1268.0,1468.8 C1280.0,1466.6 1290.0,1462.9 1304.0,1460.4 C1318.0,1457.9 1336.8,1456.5 1352.0,1453.9 C1367.2,1451.3 1387.8,1446.5 1395.0,1445.0" fill="none" stroke="#00bfff" stroke-width="5.00" stroke-linejoin="round" stroke-linecap="butt" clip-path="url(#clip2)" />
<path d="M320.0,1244.6 V1396.6" stroke="#000" stroke-opacity="0.25" stroke-width="3.33" fill="none"/>
<path d="M291.5,1320.6 H348.5" stroke="#000" stroke-opacity="0.25" stroke-width="3.33" fill="none"/>
<path d="M314.6,1244.6 H325.5" stroke="#000" stroke-opacity="0.25" stroke-width="3.33" fill="none"/>
<path d="M314.6,1396.6 H325.5" stroke="#000" stroke-opacity="0.25" stroke-width="3.33" fill="none"/>
<path d="M291.5,1315.1 V1326.0" stroke="#000" stroke-opacity="0.25" stroke-width="3.33" fill="none"/>
<path d="M348.5,1315.1 V1326.0" stroke="#000" stroke-opacity="0.25" stroke-width="3.33" fill="none"/>
<circle cx="320.0" cy="1320.6" r="6.5" fill="#fff" fill-opacity="0.25" stroke="#000" stroke-opacity="0.25" stroke-width="3.33"/>
<path d="M377.1,1425.0 V1557.6" stroke="#000" stroke-opacity="0.25" stroke-width="3.33" fill="none"/>
<path d="M348.6,1491.3 H405.6" stroke="#000" stroke-opacity="0.25" stroke-width="3.33" fill="none"/>
<path d="M371.6,1425.0 H382.5" stroke="#000" stroke-opacity="0.25" stroke-width="3.33" fill="none"/>
<path d="M371.6,1557.6 H382.5" stroke="#000" stroke-opacity="0.25" stroke-width="3.33" fill="none"/>
<path d="M348.6,1485.8 V1496.8" stroke="#000" stroke-opacity="0.25" stroke-width="3.33" fill="none"/>
<path d="M405.6,1485.8 V1496.8" stroke="#000" stroke-opacity="0.25" stroke-width="3.33" fill="none"/>
<circle cx="377.1" cy="1491.3" r="6.5" fill="#fff" fill-opacity="0.25" stroke="#000" stroke-opacity="0.25" stroke-width="3.33"/>
<path d="M434.2,1412.6 V1539.0" stroke="#000" stroke-opacity="0.25" stroke-width="3.33" fill="none"/>
<path d="M405.7,1475.8 H462.7" stroke="#000" stroke-opacity="0.25" stroke-width="3.33" fill="none"/>
<path d="M428.7,1412.6 H439.6" stroke="#000" stroke-opacity="0.25" stroke-width="3.33" fill="none"/>
<path d="M428.7,1539.0 H439.6" stroke="#000" stroke-opacity="0.25" stroke-width="3.33" fill="none"/>
<path d="M405.7,1470.3 V1481.2" stroke="#000" stroke-opacity="0.25" stroke-width="3.33" fill="none"/>
<path d="M462.7,1470.3 V1481.2" stroke="#000" stroke-opacity="0.25" stroke-width="3.33" fill="none"/>
<circle cx="434.2" cy="1475.8" r="6.5" fill="#fff" fill-opacity="0.25" stroke="#000" stroke-opacity="0.25" stroke-width="3.33"/>
<path d="M491.2,1302.6 V1423.0" stroke="#000" stroke-opacity="0.25" stroke-width="3.33" fill="none"/>
<path d="M462.7,1362.8 H519.7" stroke="#000" stroke-opacity="0.25" stroke-width="3.33" fill="none"/>
<path d="M485.8,1302.6 H496.7" stroke="#000" stroke-opacity="0.25" stroke-width="3.33" fill="none"/>
<path d="M485.8,1423.0 H496.7" stroke="#000" stroke-opacity="0.25" stroke-width="3.33" fill="none"/>
<path d="M462.7,1357.3 V1368.2" stroke="#000" stroke-opacity="0.25" stroke-width="3.33" fill="none"/>
<path d="M519.7,1357.3 V1368.2" stroke="#000" stroke-opacity="0.25" stroke-width="3.33" fill="none"/>
<circle cx="491.2" cy="1362.8" r="6.5" fill="#fff" fill-opacity="0.25" stroke="#000" stroke-opacity="0.25" stroke-width="3.33"/>
<path d="M548.3,1371.2 V1472.0" stroke="#000" stroke-opacity="0.25" stroke-width="3.33" fill="none"/>
<path d="M519.8,1421.6 H576.8" stroke="#000" stroke-opacity="0.25" stroke-width="3.33" fill="none"/>
<path d="M542.9,1371.2 H553.8" stroke="#000" stroke-opacity="0.25" stroke-width="3.33" fill="none"/>
<path d="M542.9,1472.0 H553.8" stroke="#000" stroke-opacity="0.25" stroke-width="3.33" fill="none"/>
<path d="M519.8,1416.1 V1427.0" stroke="#000" stroke-opacity="0.25" stroke-width="3.33" fill="none"/>
<path d="M576.8,1416.1 V1427.0" stroke="#000" stroke-opacity="0.25" stroke-width="3.33" fill="none"/>
<circle cx="548.3" cy="1421.6" r="6.5" fill="#fff" fill-opacity="0.25" stroke="#000" stroke-opacity="0.25" stroke-width="3.33"/>
<path d="M605.4,1481.8 V1601.1" stroke="#000" stroke-opacity="0.25" stroke-width="3.33" fill="none"/>
<path d="M576.9,1541.4 H633.9" stroke="#000" stroke-opacity="0.25" stroke-width="3.33" fill="none"/>
<path d="M599.9,1481.8 H610.8" stroke="#000" stroke-opacity="0.25" stroke-width="3.33" fill="none"/>
<path d="M599.9,1601.1 H610.8" stroke="#000" stroke-opacity="0.25" stroke-width="3.33" fill="none"/>
<path d="M576.9,1536.0 V1546.9" stroke="#000" stroke-opacity="0.25" stroke-width="3.33" fill="none"/>
<path d="M633.9,1536.0 V1546.9" stroke="#000" stroke-opacity="0.25" stroke-width="3.33" fill="none"/>
<circle cx="605.4" cy="1541.4" r="6.5" fill="#fff" fill-opacity="0.25" stroke="#000" stroke-opacity="0.25" stroke-width="3.33"/>
<path d="M662.5,1278.7 V1387.9" stroke="#000" stroke-opacity="0.25" stroke-width="3.33" fill="none"/>
<path d="M634.0,1333.3 H691.0" stroke="#000" stroke-opacity="0.25" stroke-width="3.33" fill="none"/>
<path d="M657.0,1278.7 H667.9" stroke="#000" stroke-opacity="0.25" stroke-width="3.33" fill="none"/>
<path d="M657.0,1387.9 H667.9" stroke="#000" stroke-opacity="0.25" stroke-width="3.33" fill="none"/>
<path d="M634.0,1327.8 V1338.8" stroke="#000" stroke-opacity="0.25" stroke-width="3.33" fill="none"/>
<path d="M691.0,1327.8 V1338.8" stroke="#000" stroke-opacity="0.25" stroke-width="3.33" fill="none"/>
<circle cx="662.5" cy="1333.3" r="6.5" fill="#fff" fill-opacity="0.25" stroke="#000" stroke-opacity="0.25" stroke-width="3.33"/>
<path d="M719.5,1219.4 V1338.2" stroke="#000" stroke-opacity="0.25" stroke-width="3.33" fill="none"/>
<path d="M691.0,1278.8 H748.0" stroke="#000" stroke-opacity="0.25" stroke-width="3.33" fill="none"/>
<path d="M714.1,1219.4 H725.0" stroke="#000" stroke-opacity="0.25" stroke-width="3.33" fill="none"/>
<path d="M714.1,1338.2 H725.0" stroke="#000" stroke-opacity="0.25" stroke-width="3.33" fill="none"/>
<path d="M691.0,1273.3 V1284.2" stroke="#000" stroke-opacity="0.25" stroke-width="3.33" fill="none"/>
<path d="M748.0,1273.3 V1284.2" stroke="#000" stroke-opacity="0.25" stroke-width="3.33" fill="none"/>
<circle cx="719.5" cy="1278.8" r="6.5" fill="#fff" fill-opacity="0.25" stroke="#000" stroke-opacity="0.25" stroke-width="3.33"/>
<path d="M776.6,1306.2 V1423.8" stroke="#000" stroke-opacity="0.25" stroke-width="3.33" fill="none"/>
<path d="M748.1,1365.0 H805.1" stroke="#000" stroke-opacity="0.25" stroke-width="3.33" fill="none"/>
<path d="M771.2,1306.2 H782.1" stroke="#000" stroke-opacity="0.25" stroke-width="3.33" fill="none"/>
<path d="M771.2,1423.8 H782.1" stroke="#000" stroke-opacity="0.25" stroke-width="3.33" fill="none"/>
<path d="M748.1,1359.5 V1370.5" stroke="#000" stroke-opacity="0.25" stroke-width="3.33" fill="none"/>
<path d="M805.1,1359.5 V1370.5" stroke="#000" stroke-opacity="0.25" stroke-width="3.33" fill="none"/>
<circle cx="776.6" cy="1365.0" r="6.5" fill="#fff" fill-opacity="0.25" stroke="#000" stroke-opacity="0.25" stroke-width="3.33"/>
<path d="M833.7,1231.6 V1345.1" stroke="#000" stroke-opacity="0.25" stroke-width="3.33" fill="none"/>
<path d="M805.2,1288.4 H862.2" stroke="#000" stroke-opacity="0.25" stroke-width="3.33" fill="none"/>
<path d="M828.2,1231.6 H839.1" stroke="#000" stroke-opacity="0.25" stroke-width="3.33" fill="none"/>
<path d="M828.2,1345.1 H839.1" stroke="#000" stroke-opacity="0.25" stroke-width="3.33" fill="none"/>
<path d="M805.2,1282.9 V1293.8" stroke="#000" stroke-opacity="0.25" stroke-width="3.33" fill="none"/>
<path d="M862.2,1282.9 V1293.8" stroke="#000" stroke-opacity="0.25" stroke-width="3.33" fill="none"/>
<circle cx="833.7" cy="1288.4" r="6.5" fill="#fff" fill-opacity="0.25" stroke="#000" stroke-opacity="0.25" stroke-width="3.33"/>
<path d="M890.8,1376.7 V1495.1" stroke="#000" stroke-opacity="0.25" stroke-width="3.33" fill="none"/>
<path d="M862.3,1435.9 H919.3" stroke="#000" stroke-opacity="0.25" stroke-width="3.33" fill="none"/>
<path d="M885.3,1376.7 H896.2" stroke="#000" stroke-opacity="0.25" stroke-width="3.33" fill="none"/>
<path d="M885.3,1495.1 H896.2" stroke="#000" stroke-opacity="0.25" stroke-width="3.33" fill="none"/>
<path d="M862.3,1430.5 V1441.4" stroke="#000" stroke-opacity="0.25" stroke-width="3.33" fill="none"/>
<path d="M919.3,1430.5 V1441.4" stroke="#000" stroke-opacity="0.25" stroke-width="3.33" fill="none"/>
<circle cx="890.8" cy="1435.9" r="6.5" fill="#fff" fill-opacity="0.25" stroke="#000" stroke-opacity="0.25" stroke-width="3.33"/>
<path d="M947.8,1315.1 V1438.3" stroke="#000" stroke-opacity="0.25" stroke-width="3.33" fill="none"/>
<path d="M919.3,1376.7 H976.3" stroke="#000" stroke-opacity="0.25" stroke-width="3.33" fill="none"/>
<path d="M942.4,1315.1 H953.3" stroke="#000" stroke-opacity="0.25" stroke-width="3.33" fill="none"/>
<path d="M942.4,1438.3 H953.3" stroke="#000" stroke-opacity="0.25" stroke-width="3.33" fill="none"/>
<path d="M919.3,1371.2 V1382.2" stroke="#000" stroke-opacity="0.25" stroke-width="3.33" fill="none"/>
<path d="M976.3,1371.2 V1382.2" stroke="#000" stroke-opacity="0.25" stroke-width="3.33" fill="none"/>
<circle cx="947.8" cy="1376.7" r="6.5" fill="#fff" fill-opacity="0.25" stroke="#000" stroke-opacity="0.25" stroke-width="3.33"/>
<path d="M1004.9,1290.3 V1410.7" stroke="#000" stroke-opacity="0.25" stroke-width="3.33" fill="none"/>
<path d="M976.4,1350.5 H1033.4" stroke="#000" stroke-opacity="0.25" stroke-width="3.33" fill="none"/>
<path d="M999.5,1290.3 H1010.4" stroke="#000" stroke-opacity="0.25" stroke-width="3.33" fill="none"/>
<path d="M999.5,1410.7 H1010.4" stroke="#000" stroke-opacity="0.25" stroke-width="3.33" fill="none"/>
<path d="M976.4,1345.0 V1356.0" stroke="#000" stroke-opacity="0.25" stroke-width="3.33" fill="none"/>
<path d="M1033.4,1345.0 V1356.0" stroke="#000" stroke-opacity="0.25" stroke-width="3.33" fill="none"/>
<circle cx="1004.9" cy="1350.5" r="6.5" fill="#fff" fill-opacity="0.25" stroke="#000" stroke-opacity="0.25" stroke-width="3.33"/>
<path d="M1062.0,1396.4 V1510.6" stroke="#000" stroke-opacity="0.25" stroke-width="3.33" fill="none"/>
<path d="M1033.5,1453.5 H1090.5" stroke="#000" stroke-opacity="0.25" stroke-width="3.33" fill="none"/>
<path d="M1056.5,1396.4 H1067.4" stroke="#000" stroke-opacity="0.25" stroke-width="3.33" fill="none"/>
<path d="M1056.5,1510.6 H1067.4" stroke="#000" stroke-opacity="0.25" stroke-width="3.33" fill="none"/>
<path d="M1033.5,1448.0 V1459.0" stroke="#000" stroke-opacity="0.25" stroke-width="3.33" fill="none"/>
<path d="M1090.5,1448.0 V1459.0" stroke="#000" stroke-opacity="0.25" stroke-width="3.33" fill="none"/>
<circle cx="1062.0" cy="1453.5" r="6.5" fill="#fff" fill-opacity="0.25" stroke="#000" stroke-opacity="0.25" stroke-width="3.33"/>
<path d="M1119.1,1442.0 V1564.2" stroke="#000" stroke-opacity="0.25" stroke-width="3.33" fill="none"/>
<path d="M1090.6,1503.1 H1147.6" stroke="#000" stroke-opacity="0.25" stroke-width="3.33" fill="none"/>
<path d="M1113.6,1442.0 H1124.5" stroke="#000" stroke-opacity="0.25" stroke-width="3.33" fill="none"/>
<path d="M1113.6,1564.2 H1124.5" stroke="#000" stroke-opacity="0.25" stroke-width="3.33" fill="none"/>
<path d="M1090.6,1497.6 V1508.5" stroke="#000" stroke-opacity="0.25" stroke-width="3.33" fill="none"/>
<path d="M1147.6,1497.6 V1508.5" stroke="#000" stroke-opacity="0.25" stroke-width="3.33" fill="none"/>
<circle cx="1119.1" cy="1503.1" r="6.5" fill="#fff" fill-opacity="0.25" stroke="#000" stroke-opacity="0.25" stroke-width="3.33"/>
<path d="M1176.1,1483.4 V1609.2" stroke="#000" stroke-opacity="0.25" stroke-width="3.33" fill="none"/>
<path d="M1147.6,1546.3 H1204.6" stroke="#000" stroke-opacity="0.25" stroke-width="3.33" fill="none"/>
<path d="M1170.7,1483.4 H1181.6" stroke="#000" stroke-opacity="0.25" stroke-width="3.33" fill="none"/>
<path d="M1170.7,1609.2 H1181.6" stroke="#000" stroke-opacity="0.25" stroke-width="3.33" fill="none"/>
<path d="M1147.6,1540.8 V1551.8" stroke="#000" stroke-opacity="0.25" stroke-width="3.33" fill="none"/>
<path d="M1204.6,1540.8 V1551.8" stroke="#000" stroke-opacity="0.25" stroke-width="3.33" fill="none"/>
<circle cx="1176.1" cy="1546.3" r="6.5" fill="#fff" fill-opacity="0.25" stroke="#000" stroke-opacity="0.25" stroke-width="3.33"/>
<path d="M1233.2,1428.6 V1530.4" stroke="#000" stroke-opacity="0.25" stroke-width="3.33" fill="none"/>
<path d="M1204.7,1479.5 H1261.7" stroke="#000" stroke-opacity="0.25" stroke-width="3.33" fill="none"/>
<path d="M1227.8,1428.6 H1238.7" stroke="#000" stroke-opacity="0.25" stroke-width="3.33" fill="none"/>
<path d="M1227.8,1530.4 H1238.7" stroke="#000" stroke-opacity="0.25" stroke-width="3.33" fill="none"/>
<path d="M1204.7,1474.0 V1485.0" stroke="#000" stroke-opacity="0.25" stroke-width="3.33" fill="none"/>
<path d="M1261.7,1474.0 V1485.0" stroke="#000" stroke-opacity="0.25" stroke-width="3.33" fill="none"/>
<circle cx="1233.2" cy="1479.5" r="6.5" fill="#fff" fill-opacity="0.25" stroke="#000" stroke-opacity="0.25" stroke-width="3.33"/>
<path d="M1290.3,1429.1 V1545.9" stroke="#000" stroke-opacity="0.25" stroke-width="3.33" fill="none"/>
<path d="M1261.8,1487.5 H1318.8" stroke="#000" stroke-opacity="0.25" stroke-width="3.33" fill="none"/>
<path d="M1284.8,1429.1 H1295.7" stroke="#000" stroke-opacity="0.25" stroke-width="3.33" fill="none"/>
<path d="M1284.8,1545.9 H1295.7" stroke="#000" stroke-opacity="0.25" stroke-width="3.33" fill="none"/>
<path d="M1261.8,1482.0 V1493.0" stroke="#000" stroke-opacity="0.25" stroke-width="3.33" fill="none"/>
<path d="M1318.8,1482.0 V1493.0" stroke="#000" stroke-opacity="0.25" stroke-width="3.33" fill="none"/>
<circle cx="1290.3" cy="1487.5" r="6.5" fill="#fff" fill-opacity="0.25" stroke="#000" stroke-opacity="0.25" stroke-width="3.33"/>
<path d="M262.9,1327.0 V1647.5 M234.4,1487.3 H291.4 M257.5,1327.0 H268.4 M257.5,1647.5 H268.4 M234.4,1481.8 V1492.8 M291.4,1481.8 V1492.8" stroke="#000" stroke-width="3.33" fill="none"/>
<circle cx="262.9" cy="1487.3" r="6.5" fill="#fff" stroke="#000" stroke-width="3.33"/>
<path d="M348.5,1356.0 V1456.0 M291.5,1406.0 H405.5 M343.1,1356.0 H354.0 M343.1,1456.0 H354.0 M291.5,1400.5 V1411.5 M405.5,1400.5 V1411.5" stroke="#000" stroke-width="3.33" fill="none"/>
<circle cx="348.5" cy="1406.0" r="6.5" fill="#fff" stroke="#000" stroke-width="3.33"/>
<path d="M462.7,1375.8 V1462.4 M405.7,1419.1 H519.7 M457.2,1375.8 H468.1 M457.2,1462.4 H468.1 M405.7,1413.6 V1424.5 M519.7,1413.6 V1424.5" stroke="#000" stroke-width="3.33" fill="none"/>
<circle cx="462.7" cy="1419.1" r="6.5" fill="#fff" stroke="#000" stroke-width="3.33"/>
<path d="M576.8,1442.6 V1521.2 M519.8,1481.9 H633.8 M571.4,1442.6 H582.3 M571.4,1521.2 H582.3 M519.8,1476.5 V1487.4 M633.8,1476.5 V1487.4" stroke="#000" stroke-width="3.33" fill="none"/>
<circle cx="576.8" cy="1481.9" r="6.5" fill="#fff" stroke="#000" stroke-width="3.33"/>
<path d="M691.0,1265.8 V1346.4 M634.0,1306.1 H748.0 M685.5,1265.8 H696.5 M685.5,1346.4 H696.5 M634.0,1300.6 V1311.5 M748.0,1300.6 V1311.5" stroke="#000" stroke-width="3.33" fill="none"/>
<circle cx="691.0" cy="1306.1" r="6.5" fill="#fff" stroke="#000" stroke-width="3.33"/>
<path d="M805.1,1285.6 V1367.8 M748.1,1326.7 H862.1 M799.7,1285.6 H810.6 M799.7,1367.8 H810.6 M748.1,1321.2 V1332.2 M862.1,1321.2 V1332.2" stroke="#000" stroke-width="3.33" fill="none"/>
<circle cx="805.1" cy="1326.7" r="6.5" fill="#fff" stroke="#000" stroke-width="3.33"/>
<path d="M919.3,1363.3 V1448.9 M862.3,1406.1 H976.3 M913.8,1363.3 H924.7 M913.8,1448.9 H924.7 M862.3,1400.6 V1411.5 M976.3,1400.6 V1411.5" stroke="#000" stroke-width="3.33" fill="none"/>
<circle cx="919.3" cy="1406.1" r="6.5" fill="#fff" stroke="#000" stroke-width="3.33"/>
<path d="M1033.4,1360.5 V1443.5 M976.4,1402.0 H1090.4 M1028.0,1360.5 H1038.9 M1028.0,1443.5 H1038.9 M976.4,1396.5 V1407.5 M1090.4,1396.5 V1407.5" stroke="#000" stroke-width="3.33" fill="none"/>
<circle cx="1033.4" cy="1402.0" r="6.5" fill="#fff" stroke="#000" stroke-width="3.33"/>
<path d="M1147.6,1480.5 V1568.5 M1090.6,1524.5 H1204.6 M1142.1,1480.5 H1153.0 M1142.1,1568.5 H1153.0 M1090.6,1519.0 V1530.0 M1204.6,1519.0 V1530.0" stroke="#000" stroke-width="3.33" fill="none"/>
<circle cx="1147.6" cy="1524.5" r="6.5" fill="#fff" stroke="#000" stroke-width="3.33"/>
<path d="M1261.7,1444.7 V1522.7 M1204.7,1483.7 H1318.7 M1256.3,1444.7 H1267.2 M1256.3,1522.7 H1267.2 M1204.7,1478.2 V1489.2 M1318.7,1478.2 V1489.2" stroke="#000" stroke-width="3.33" fill="none"/>
<circle cx="1261.7" cy="1483.7" r="6.5" fill="#fff" stroke="#000" stroke-width="3.33"/>
<path d="M158.60,537.70 V530.70 M158.60,0.90 V7.90 M196.65,537.70 V530.70 M196.65,0.90 V7.90 M234.70,537.70 V527.20 M234.70,0.90 V11.40 M272.75,537.70 V530.70 M272.75,0.90 V7.90 M310.80,537.70 V530.70 M310.80,0.90 V7.90 M348.85,537.70 V530.70 M348.85,0.90 V7.90 M386.90,537.70 V530.70 M386.90,0.90 V7.90 M424.95,537.70 V527.20 M424.95,0.90 V11.40 M463.00,537.70 V530.70 M463.00,0.90 V7.90 M501.05,537.70 V530.70 M501.05,0.90 V7.90 M539.10,537.70 V530.70 M539.10,0.90 V7.90 M577.15,537.70 V530.70 M577.15,0.90 V7.90 M615.20,537.70 V527.20 M615.20,0.90 V11.40 M653.25,537.70 V530.70 M653.25,0.90 V7.90 M691.30,537.70 V530.70 M691.30,0.90 V7.90 M729.35,537.70 V530.70 M729.35,0.90 V7.90 M767.40,537.70 V530.70 M767.40,0.90 V7.90 M805.45,537.70 V527.20 M805.45,0.90 V11.40 M843.50,537.70 V530.70 M843.50,0.90 V7.90 M881.55,537.70 V530.70 M881.55,0.90 V7.90 M919.60,537.70 V530.70 M919.60,0.90 V7.90 M957.65,537.70 V530.70 M957.65,0.90 V7.90 M995.70,537.70 V527.20 M995.70,0.90 V11.40 M1033.75,537.70 V530.70 M1033.75,0.90 V7.90 M1071.80,537.70 V530.70 M1071.80,0.90 V7.90 M1109.85,537.70 V530.70 M1109.85,0.90 V7.90 M1147.90,537.70 V530.70 M1147.90,0.90 V7.90 M1185.95,537.70 V527.20 M1185.95,0.90 V11.40 M1224.00,537.70 V530.70 M1224.00,0.90 V7.90 M1262.05,537.70 V530.70 M1262.05,0.90 V7.90 M1300.10,537.70 V530.70 M1300.10,0.90 V7.90 M1338.15,537.70 V530.70 M1338.15,0.90 V7.90 M1376.20,537.70 V527.20 M1376.20,0.90 V11.40 M139.50,524.28 H146.50 M1395.00,524.28 H1388.00 M139.50,497.44 H146.50 M1395.00,497.44 H1388.00 M139.50,470.60 H150.00 M1395.00,470.60 H1384.50 M139.50,443.76 H146.50 M1395.00,443.76 H1388.00 M139.50,416.92 H146.50 M1395.00,416.92 H1388.00 M139.50,390.08 H146.50 M1395.00,390.08 H1388.00 M139.50,363.24 H146.50 M1395.00,363.24 H1388.00 M139.50,336.40 H150.00 M1395.00,336.40 H1384.50 M139.50,309.56 H146.50 M1395.00,309.56 H1388.00 M139.50,282.72 H146.50 M1395.00,282.72 H1388.00 M139.50,255.88 H146.50 M1395.00,255.88 H1388.00 M139.50,229.04 H146.50 M1395.00,229.04 H1388.00 M139.50,202.20 H150.00 M1395.00,202.20 H1384.50 M139.50,175.36 H146.50 M1395.00,175.36 H1388.00 M139.50,148.52 H146.50 M1395.00,148.52 H1388.00 M139.50,121.68 H146.50 M1395.00,121.68 H1388.00 M139.50,94.84 H146.50 M1395.00,94.84 H1388.00 M139.50,68.00 H150.00 M1395.00,68.00 H1384.50 M139.50,41.16 H146.50 M1395.00,41.16 H1388.00 M139.50,14.32 H146.50 M1395.00,14.32 H1388.00" stroke="#000" stroke-width="2" fill="none"/>
<rect x="139.50" y="0.90" width="1255.50" height="536.80" fill="none" stroke="#000" stroke-width="2.3"/>
<path d="M158.60,1101.35 V1094.35 M158.60,564.55 V571.55 M196.65,1101.35 V1094.35 M196.65,564.55 V571.55 M234.70,1101.35 V1090.85 M234.70,564.55 V575.05 M272.75,1101.35 V1094.35 M272.75,564.55 V571.55 M310.80,1101.35 V1094.35 M310.80,564.55 V571.55 M348.85,1101.35 V1094.35 M348.85,564.55 V571.55 M386.90,1101.35 V1094.35 M386.90,564.55 V571.55 M424.95,1101.35 V1090.85 M424.95,564.55 V575.05 M463.00,1101.35 V1094.35 M463.00,564.55 V571.55 M501.05,1101.35 V1094.35 M501.05,564.55 V571.55 M539.10,1101.35 V1094.35 M539.10,564.55 V571.55 M577.15,1101.35 V1094.35 M577.15,564.55 V571.55 M615.20,1101.35 V1090.85 M615.20,564.55 V575.05 M653.25,1101.35 V1094.35 M653.25,564.55 V571.55 M691.30,1101.35 V1094.35 M691.30,564.55 V571.55 M729.35,1101.35 V1094.35 M729.35,564.55 V571.55 M767.40,1101.35 V1094.35 M767.40,564.55 V571.55 M805.45,1101.35 V1090.85 M805.45,564.55 V575.05 M843.50,1101.35 V1094.35 M843.50,564.55 V571.55 M881.55,1101.35 V1094.35 M881.55,564.55 V571.55 M919.60,1101.35 V1094.35 M919.60,564.55 V571.55 M957.65,1101.35 V1094.35 M957.65,564.55 V571.55 M995.70,1101.35 V1090.85 M995.70,564.55 V575.05 M1033.75,1101.35 V1094.35 M1033.75,564.55 V571.55 M1071.80,1101.35 V1094.35 M1071.80,564.55 V571.55 M1109.85,1101.35 V1094.35 M1109.85,564.55 V571.55 M1147.90,1101.35 V1094.35 M1147.90,564.55 V571.55 M1185.95,1101.35 V1090.85 M1185.95,564.55 V575.05 M1224.00,1101.35 V1094.35 M1224.00,564.55 V571.55 M1262.05,1101.35 V1094.35 M1262.05,564.55 V571.55 M1300.10,1101.35 V1094.35 M1300.10,564.55 V571.55 M1338.15,1101.35 V1094.35 M1338.15,564.55 V571.55 M1376.20,1101.35 V1090.85 M1376.20,564.55 V575.05 M139.50,1087.93 H146.50 M139.50,1061.09 H146.50 M139.50,1034.25 H150.00 M139.50,1007.41 H146.50 M139.50,980.57 H146.50 M139.50,953.73 H146.50 M139.50,926.89 H146.50 M139.50,900.05 H150.00 M139.50,873.21 H146.50 M139.50,846.37 H146.50 M139.50,819.53 H146.50 M139.50,792.69 H146.50 M139.50,765.85 H150.00 M139.50,739.01 H146.50 M139.50,712.17 H146.50 M139.50,685.33 H146.50 M139.50,658.49 H146.50 M139.50,631.65 H150.00 M139.50,604.81 H146.50 M139.50,577.97 H146.50 M1395.00,1002.50 H1384.50 M1395.00,945.50 H1384.50 M1395.00,887.50 H1384.50 M1395.00,828.80 H1384.50 M1395.00,770.00 H1384.50 M1395.00,710.20 H1384.50 M1395.00,650.00 H1384.50" stroke="#000" stroke-width="2" fill="none"/>
<rect x="139.50" y="564.55" width="1255.50" height="536.80" fill="none" stroke="#000" stroke-width="2.3"/>
<path d="M158.60,1665.00 V1658.00 M158.60,1128.20 V1135.20 M196.65,1665.00 V1658.00 M196.65,1128.20 V1135.20 M234.70,1665.00 V1654.50 M234.70,1128.20 V1138.70 M272.75,1665.00 V1658.00 M272.75,1128.20 V1135.20 M310.80,1665.00 V1658.00 M310.80,1128.20 V1135.20 M348.85,1665.00 V1658.00 M348.85,1128.20 V1135.20 M386.90,1665.00 V1658.00 M386.90,1128.20 V1135.20 M424.95,1665.00 V1654.50 M424.95,1128.20 V1138.70 M463.00,1665.00 V1658.00 M463.00,1128.20 V1135.20 M501.05,1665.00 V1658.00 M501.05,1128.20 V1135.20 M539.10,1665.00 V1658.00 M539.10,1128.20 V1135.20 M577.15,1665.00 V1658.00 M577.15,1128.20 V1135.20 M615.20,1665.00 V1654.50 M615.20,1128.20 V1138.70 M653.25,1665.00 V1658.00 M653.25,1128.20 V1135.20 M691.30,1665.00 V1658.00 M691.30,1128.20 V1135.20 M729.35,1665.00 V1658.00 M729.35,1128.20 V1135.20 M767.40,1665.00 V1658.00 M767.40,1128.20 V1135.20 M805.45,1665.00 V1654.50 M805.45,1128.20 V1138.70 M843.50,1665.00 V1658.00 M843.50,1128.20 V1135.20 M881.55,1665.00 V1658.00 M881.55,1128.20 V1135.20 M919.60,1665.00 V1658.00 M919.60,1128.20 V1135.20 M957.65,1665.00 V1658.00 M957.65,1128.20 V1135.20 M995.70,1665.00 V1654.50 M995.70,1128.20 V1138.70 M1033.75,1665.00 V1658.00 M1033.75,1128.20 V1135.20 M1071.80,1665.00 V1658.00 M1071.80,1128.20 V1135.20 M1109.85,1665.00 V1658.00 M1109.85,1128.20 V1135.20 M1147.90,1665.00 V1658.00 M1147.90,1128.20 V1135.20 M1185.95,1665.00 V1654.50 M1185.95,1128.20 V1138.70 M1224.00,1665.00 V1658.00 M1224.00,1128.20 V1135.20 M1262.05,1665.00 V1658.00 M1262.05,1128.20 V1135.20 M1300.10,1665.00 V1658.00 M1300.10,1128.20 V1135.20 M1338.15,1665.00 V1658.00 M1338.15,1128.20 V1135.20 M1376.20,1665.00 V1654.50 M1376.20,1128.20 V1138.70 M139.50,1651.58 H146.50 M1395.00,1651.58 H1388.00 M139.50,1624.74 H146.50 M1395.00,1624.74 H1388.00 M139.50,1597.90 H150.00 M1395.00,1597.90 H1384.50 M139.50,1571.06 H146.50 M1395.00,1571.06 H1388.00 M139.50,1544.22 H146.50 M1395.00,1544.22 H1388.00 M139.50,1517.38 H146.50 M1395.00,1517.38 H1388.00 M139.50,1490.54 H146.50 M1395.00,1490.54 H1388.00 M139.50,1463.70 H150.00 M1395.00,1463.70 H1384.50 M139.50,1436.86 H146.50 M1395.00,1436.86 H1388.00 M139.50,1410.02 H146.50 M1395.00,1410.02 H1388.00 M139.50,1383.18 H146.50 M1395.00,1383.18 H1388.00 M139.50,1356.34 H146.50 M1395.00,1356.34 H1388.00 M139.50,1329.50 H150.00 M1395.00,1329.50 H1384.50 M139.50,1302.66 H146.50 M1395.00,1302.66 H1388.00 M139.50,1275.82 H146.50 M1395.00,1275.82 H1388.00 M139.50,1248.98 H146.50 M1395.00,1248.98 H1388.00 M139.50,1222.14 H146.50 M1395.00,1222.14 H1388.00 M139.50,1195.30 H150.00 M1395.00,1195.30 H1384.50 M139.50,1168.46 H146.50 M1395.00,1168.46 H1388.00 M139.50,1141.62 H146.50 M1395.00,1141.62 H1388.00" stroke="#000" stroke-width="2" fill="none"/>
<rect x="139.50" y="1128.20" width="1255.50" height="536.80" fill="none" stroke="#000" stroke-width="2.3"/>
<path d="M162.7,59.0 H225.3" stroke="#3be0bb" stroke-width="5"/>
<path d="M673.3,59.0 H736.0" stroke="#0000ff" stroke-width="5"/>
<path d="M162.4,603.9 H225.4" stroke="#ff00ff" stroke-width="5"/>
<path d="M162.4,646.4 H225.4" stroke="#fdae68" stroke-width="5"/>
<path d="M612.7,603.9 H675.2" stroke="#009600" stroke-width="5"/>
<path d="M162.4,1184.6 H225.4" stroke="#00bfff" stroke-width="5"/>
<path d="M502.6,1184.6 H564.6" stroke="#808080" stroke-width="5"/>
<text x="132.50" y="484.60" font-size="38.00" text-anchor="end" textLength="68.00" lengthAdjust="spacingAndGlyphs">900</text>
<text x="132.50" y="350.40" font-size="38.00" text-anchor="end" textLength="68.00" lengthAdjust="spacingAndGlyphs">950</text>
<text x="132.50" y="216.20" font-size="38.00" text-anchor="end" textLength="90.20" lengthAdjust="spacingAndGlyphs">1000</text>
<text x="132.50" y="82.00" font-size="38.00" text-anchor="end" textLength="90.20" lengthAdjust="spacingAndGlyphs">1050</text>
<text x="132.50" y="1048.25" font-size="38.00" text-anchor="end" textLength="68.00" lengthAdjust="spacingAndGlyphs">900</text>
<text x="132.50" y="914.05" font-size="38.00" text-anchor="end" textLength="68.00" lengthAdjust="spacingAndGlyphs">950</text>
<text x="132.50" y="779.85" font-size="38.00" text-anchor="end" textLength="90.20" lengthAdjust="spacingAndGlyphs">1000</text>
<text x="132.50" y="645.65" font-size="38.00" text-anchor="end" textLength="90.20" lengthAdjust="spacingAndGlyphs">1050</text>
<text x="132.50" y="1611.90" font-size="38.00" text-anchor="end" textLength="68.00" lengthAdjust="spacingAndGlyphs">900</text>
<text x="132.50" y="1477.70" font-size="38.00" text-anchor="end" textLength="68.00" lengthAdjust="spacingAndGlyphs">950</text>
<text x="132.50" y="1343.50" font-size="38.00" text-anchor="end" textLength="90.20" lengthAdjust="spacingAndGlyphs">1000</text>
<text x="132.50" y="1209.30" font-size="38.00" text-anchor="end" textLength="90.20" lengthAdjust="spacingAndGlyphs">1050</text>
<text x="234.20" y="1698.80" font-size="38.00" text-anchor="middle" textLength="57.20" lengthAdjust="spacingAndGlyphs">1.1</text>
<text x="424.20" y="1698.80" font-size="38.00" text-anchor="middle" textLength="57.20" lengthAdjust="spacingAndGlyphs">1.2</text>
<text x="614.70" y="1698.80" font-size="38.00" text-anchor="middle" textLength="56.20" lengthAdjust="spacingAndGlyphs">1.3</text>
<text x="804.70" y="1698.80" font-size="38.00" text-anchor="middle" textLength="56.20" lengthAdjust="spacingAndGlyphs">1.4</text>
<text x="995.20" y="1698.80" font-size="38.00" text-anchor="middle" textLength="57.20" lengthAdjust="spacingAndGlyphs">1.5</text>
<text x="1185.20" y="1698.80" font-size="38.00" text-anchor="middle" textLength="57.20" lengthAdjust="spacingAndGlyphs">1.6</text>
<text x="1375.70" y="1698.80" font-size="38.00" text-anchor="middle" textLength="56.20" lengthAdjust="spacingAndGlyphs">1.7</text>
<text x="767.70" y="1740.50" font-size="38.00" text-anchor="middle" textLength="311.00" lengthAdjust="spacingAndGlyphs">Wavelength [<tspan font-style="italic">μ</tspan>m]</text>
<text transform="translate(27.70,269.60) rotate(-90)" font-size="38.00" text-anchor="middle" textLength="354.80" lengthAdjust="spacingAndGlyphs">Transit depth [ppm]</text>
<text transform="translate(27.70,833.30) rotate(-90)" font-size="38.00" text-anchor="middle" textLength="353.80" lengthAdjust="spacingAndGlyphs">Transit depth [ppm]</text>
<text transform="translate(27.70,1397.00) rotate(-90)" font-size="38.00" text-anchor="middle" textLength="354.80" lengthAdjust="spacingAndGlyphs">Transit depth [ppm]</text>
<text x="1402.40" y="1016.10" font-size="38.00" text-anchor="start" textLength="21.20" lengthAdjust="spacingAndGlyphs">0</text>
<text x="1402.40" y="959.10" font-size="38.00" text-anchor="start" textLength="52.60" lengthAdjust="spacingAndGlyphs">0.5</text>
<text x="1402.80" y="901.10" font-size="38.00" text-anchor="start" textLength="20.00" lengthAdjust="spacingAndGlyphs">1</text>
<text x="1402.80" y="842.40" font-size="38.00" text-anchor="start" textLength="52.20" lengthAdjust="spacingAndGlyphs">1.5</text>
<text x="1401.40" y="783.60" font-size="38.00" text-anchor="start" textLength="21.40" lengthAdjust="spacingAndGlyphs">2</text>
<text x="1401.40" y="723.80" font-size="38.00" text-anchor="start" textLength="53.60" lengthAdjust="spacingAndGlyphs">2.5</text>
<text x="1401.40" y="663.60" font-size="38.00" text-anchor="start" textLength="21.60" lengthAdjust="spacingAndGlyphs">3</text>
<text transform="translate(1494.00,832.90) rotate(-90)" font-size="38.00" text-anchor="middle" textLength="336.20" lengthAdjust="spacingAndGlyphs">H/He scale heights</text>
<text x="245.00" y="48.80" font-size="30.50" text-anchor="start" textLength="203.00" lengthAdjust="spacingAndGlyphs">Mini-Neptune:</text>
<text x="245.00" y="81.00" font-size="30.50" text-anchor="start" textLength="372.00" lengthAdjust="spacingAndGlyphs">H<tspan font-size="21" dy="4.7">2</tspan><tspan dy="-4.7">O = 0.78%, high clouds</tspan></text>
<text x="756.80" y="48.80" font-size="30.50" text-anchor="start" textLength="182.40" lengthAdjust="spacingAndGlyphs">Water world:</text>
<text x="754.80" y="81.00" font-size="30.50" text-anchor="start" textLength="357.40" lengthAdjust="spacingAndGlyphs">H<tspan font-size="21" dy="4.7">2</tspan><tspan dy="-4.7">O = 58%, deep clouds</tspan></text>
<text x="246.00" y="612.50" font-size="30.50" text-anchor="start" textLength="310.80" lengthAdjust="spacingAndGlyphs">Pure CH<tspan font-size="21" dy="4.7">4</tspan><tspan dy="-4.7"> atmosphere</tspan></text>
<text x="245.00" y="657.00" font-size="30.50" text-anchor="start" textLength="258.60" lengthAdjust="spacingAndGlyphs">Solar composition</text>
<text x="695.40" y="613.00" font-size="30.50" text-anchor="start" textLength="117.40" lengthAdjust="spacingAndGlyphs">Low C/O</text>
<text x="245.00" y="1194.70" font-size="30.50" text-anchor="start" textLength="202.60" lengthAdjust="spacingAndGlyphs">Best-fit model</text>
<text x="585.00" y="1175.70" font-size="30.50" text-anchor="start" textLength="203.80" lengthAdjust="spacingAndGlyphs">Best-fit model</text>
<text x="586.80" y="1207.70" font-size="30.50" text-anchor="start" textLength="197.20" lengthAdjust="spacingAndGlyphs">without water</text>
</svg></body></html>
